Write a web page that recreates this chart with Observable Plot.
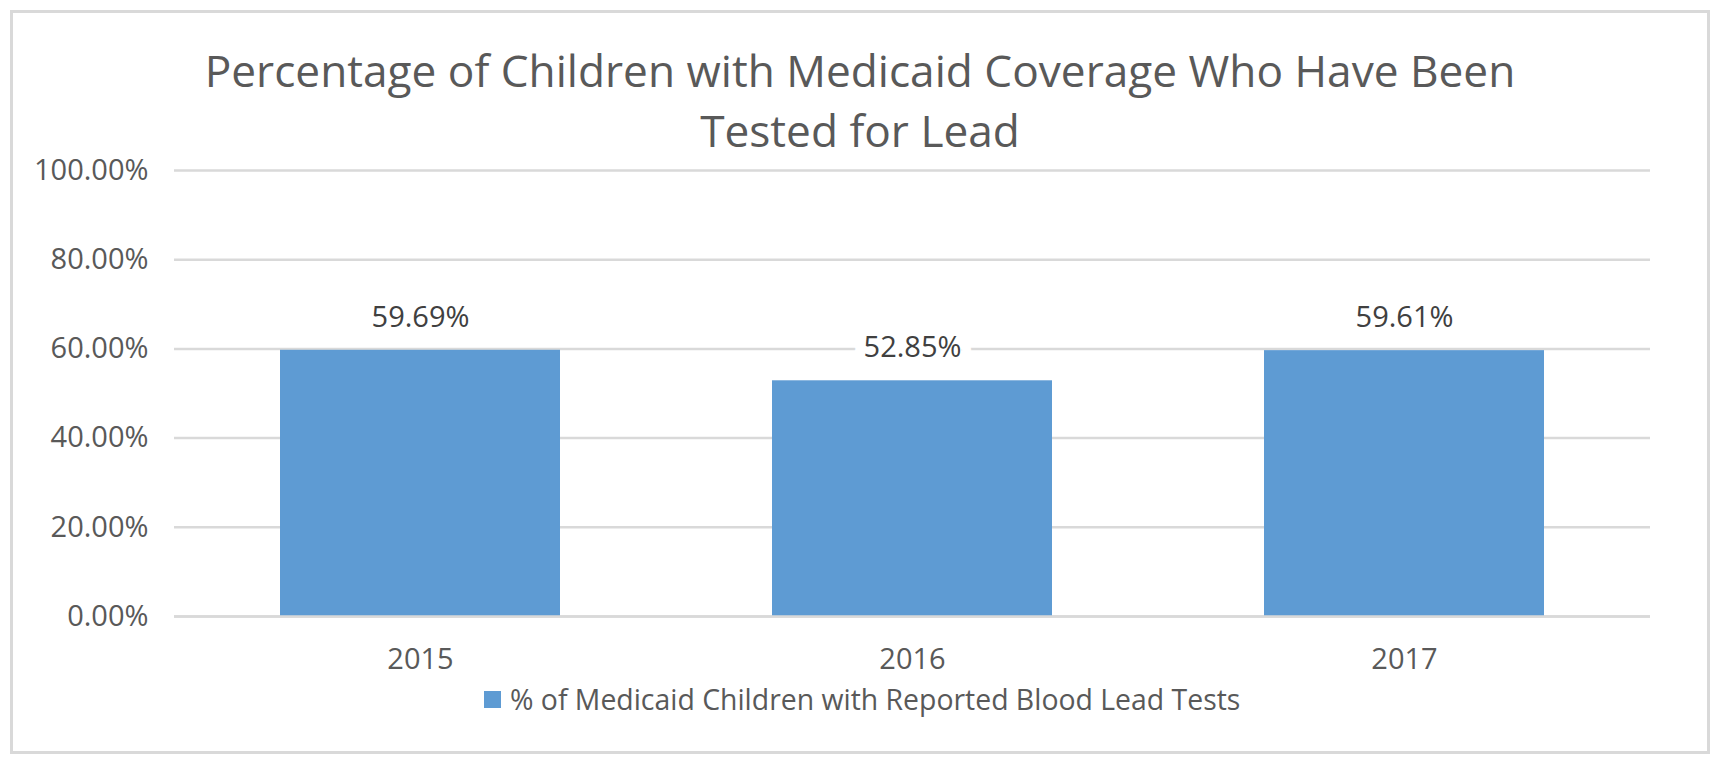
<!DOCTYPE html>
<html>
<head>
<meta charset="utf-8">
<script src="https://cdn.jsdelivr.net/npm/d3@7"></script>
<script src="https://cdn.jsdelivr.net/npm/@observablehq/plot@0.6"></script>
<style>
  html, body { margin: 0; padding: 0; background: #fff; }
  body { position: relative; width: 1713px; height: 763px; overflow: hidden; font-family: "Open Sans", sans-serif; }
  #frame { position: absolute; left: 10px; top: 10px; width: 1700px; height: 744px; border: 3px solid #d9d9d9; box-sizing: border-box; }
  #title { position: absolute; left: 10px; top: 40px; width: 1700px; text-align: center; font-size: 44.2px; line-height: 60px; color: #595959; }
  #chart { position: absolute; left: 0; top: 141px; }
  #legend { position: absolute; left: 484px; top: 680px; height: 38px; display: flex; align-items: center; font-size: 28.4px; color: #595959; white-space: nowrap; }
  #legend .sw { width: 17px; height: 17px; background: #5e9bd3; margin-right: 9px; }
</style>
</head>
<body>
<div id="frame"></div>
<div id="title">Percentage of Children with Medicaid Coverage Who Have Been<br>Tested for Lead</div>
<div id="chart"></div>
<div id="legend"><div class="sw"></div><span id="legendText"></span></div>
<script>
const years = ["2015", "2016", "2017"];
const values = [0.5969, 0.5285, 0.5961];
const valueLabels = ["59.69%", "52.85%", "59.61%"];
const yTicks = [0, 0.2, 0.4, 0.6, 0.8, 1.0];
const seriesName = "% of Medicaid Children with Reported Blood Lead Tests";

const data = years.map((y, i) => ({year: y, value: values[i], label: valueLabels[i]}));
document.getElementById("legendText").textContent = seriesName;

const chart = Plot.plot({
  width: 1713,
  height: 539,
  marginLeft: 174,
  marginRight: 63,
  marginTop: 29,
  marginBottom: 64,
  style: { fontFamily: "Open Sans, sans-serif", fontSize: "29px", color: "#595959", background: "transparent", overflow: "visible" },
  x: { domain: years, padding: 0.43, paddingOuter: 0.215, label: null },
  y: { domain: [0, 1], label: null },
  marks: [
    Plot.ruleY(yTicks, { stroke: "#d9d9d9", strokeWidth: 2.5 }),
    Plot.barY(data, { x: "year", y: "value", fill: "#5e9bd3" }),
    Plot.ruleY([0], { stroke: "#d9d9d9", strokeWidth: 2.5 }),
    Plot.text(data, { x: "year", y: "value", text: "label", dy: -33, fill: "#404040", stroke: "white", strokeWidth: 22, fontSize: 29 }),
    Plot.axisY({ ticks: yTicks, tickFormat: d => (d * 100).toFixed(2) + "%", tickSize: 0, tickPadding: 26, fill: "#595959", fontSize: 29 }),
    Plot.axisX({ tickSize: 0, tickPadding: 32, fill: "#595959", fontSize: 29 })
  ]
});
document.getElementById("chart").appendChild(chart);
</script>
</body>
</html>
